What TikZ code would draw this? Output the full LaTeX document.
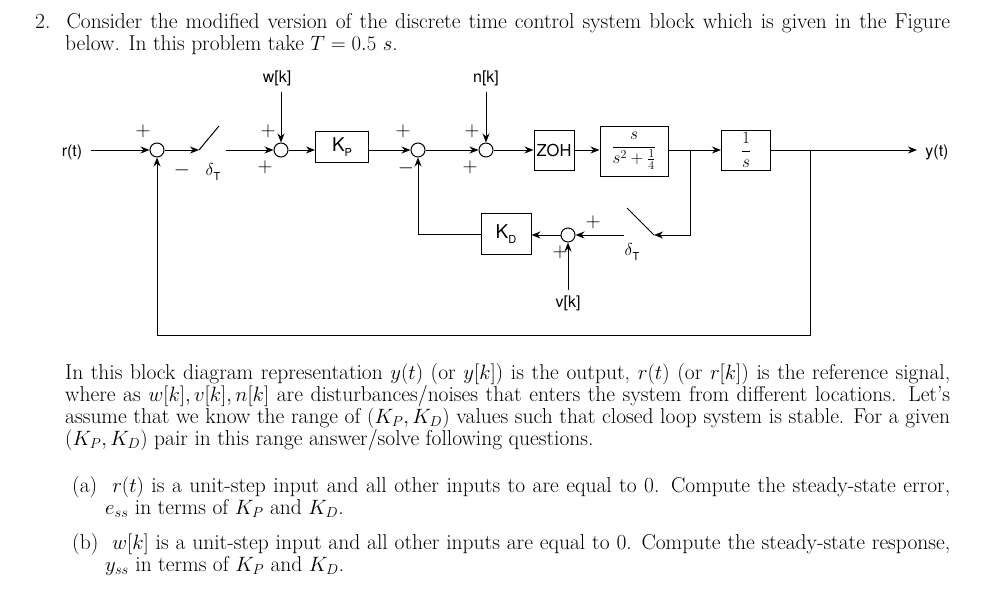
\documentclass[tikz,border=0pt]{standalone}
\usepackage{fontspec}
\usepackage{amsmath}
\newfontfamily\dfont{TeX Gyre Heros}
\newcommand{\subsf}[1]{\raisebox{-5pt}{\fontsize{11}{11}\selectfont #1}}
\usetikzlibrary{arrows.meta}
\begin{document}
\begin{tikzpicture}[x=1pt,y=-1pt,
  sig/.style={-{Stealth[length=9pt,width=7pt]},line width=1pt},
  ln/.style={line width=1pt},
  sumc/.style={circle,draw,line width=1pt,minimum size=14pt,inner sep=0pt},
  blk/.style={draw,line width=1pt,inner sep=0pt},
  lab/.style={font=\dfont\fontsize{16}{18}\selectfont,inner sep=1pt},
  big/.style={font=\dfont\fontsize{19}{20}\selectfont},
  zohf/.style={font=\dfont\fontsize{16.5}{18}\selectfont},
  mth/.style={font=\fontsize{17}{19}\selectfont},
  sg/.style={font=\fontsize{20}{20}\selectfont,inner sep=0pt},
  txt/.style={anchor=base west,inner sep=0pt,font=\fontsize{21.5}{22}\selectfont}]
\useasboundingbox (0,0) rectangle (995,590);
% text
\node[txt] (l1) at (35,28) {\hbox to 915pt{2.\ \ Consider the modified version of the discrete time control system block which is given in the Figure}};
\node[txt] (l2) at (65,50) {below. In this problem take $T=0.5\ s$.};
\node[txt] (p1) at (65,379) {\hbox to 885pt{In this block diagram representation $y(t)$ (or $y[k]$) is the output, $r(t)$ (or $r[k]$) is the reference signal,}};
\node[txt] (p2) at (65,401) {\hbox to 885pt{where as $w[k],v[k],n[k]$ are disturbances/noises that enters the system from different locations. Let's}};
\node[txt] (p3) at (65,423) {\hbox to 885pt{assume that we know the range of $(K_P,K_D)$ values such that closed loop system is stable. For a given}};
\node[txt] (p4) at (65,445) {$(K_P,K_D)$ pair in this range answer/solve following questions.};
\node[txt] (a1) at (72,492) {\hbox to 878pt{(a)\ \ $r(t)$ is a unit-step input and all other inputs to are equal to 0. Compute the steady-state error,}};
\node[txt] (a2) at (105,514) {$e_{ss}$ in terms of $K_P$ and $K_D$.};
\node[txt] (b1) at (72,549) {\hbox to 878pt{(b)\ \ $w[k]$ is a unit-step input and all other inputs are equal to 0. Compute the steady-state response,}};
\node[txt] (b2) at (105,571) {$y_{ss}$ in terms of $K_P$ and $K_D$.};
% diagram
\node[lab] (r) at (72,152) {r(t)};
\node[sumc] (s1) at (157,150) {};
\coordinate (sw1a) at (199,150);
\coordinate (sw1b) at (219,126);
\coordinate (sw1c) at (226,150);
\node[lab] (d1) at (213,172) {$\delta$\subsf{T}};
\node[sumc] (s2) at (281,150) {};
\node[lab] (w) at (277,78) {w[k]};
\coordinate (wt) at (281,92);
\node[blk,minimum width=53pt,minimum height=31pt,big] (kp) at (342,147) {K\subsf{P}};
\node[sumc] (s3) at (418,150) {};
\node[sumc] (s4) at (486,150) {};
\node[lab] (n) at (486,78) {n[k]};
\coordinate (nt) at (486,92);
\node[blk,minimum width=40pt,minimum height=40pt,zohf] (zoh) at (554,150) {ZOH};
\node[blk,minimum width=68pt,minimum height=50pt,mth] (tf) at (634,151) {$\dfrac{s}{s^2+\frac14}$};
\coordinate (b1) at (690,150);
\node[blk,minimum width=49pt,minimum height=40pt,mth] (int) at (746,150) {$\dfrac{1}{s}$};
\coordinate (b2) at (810,150);
\coordinate (yend) at (917,150);
\node[lab] (y) at (937,152) {y(t)};
\coordinate (fb1) at (810,335);
\coordinate (fb2) at (157,335);
\coordinate (b1d) at (690,235);
\coordinate (sw2a) at (654,235);
\coordinate (sw2b) at (627,208);
\coordinate (sw2c) at (624,235);
\node[lab] (d2) at (632,252) {$\delta$\subsf{T}};
\node[sumc] (s5) at (568,235) {};
\node[blk,minimum width=50pt,minimum height=41pt,big] (kd) at (506,234) {K\subsf{D}};
\coordinate (kdl) at (418,234);
\node[lab] (v) at (568,303) {v[k]};
\coordinate (vt) at (568,290);
% connectors
\draw[sig] (r.east) ++(8,-2) -- (s1.west);
\draw[sig] (s1.east) -- (sw1a);
\draw[ln] (sw1a) -- (sw1b);
\draw[sig] (sw1c) -- (s2.west);
\draw[sig] (wt) -- (s2.north);
\draw[sig] (s2.east) -- (kp.west |- s2.east);
\draw[sig] (kp.east |- s3.west) -- (s3.west);
\draw[sig] (s3.east) -- (s4.west);
\draw[sig] (nt) -- (s4.north);
\draw[sig] (s4.east) -- (zoh.west |- s4.east);
\draw[sig] (zoh.east |- s4.east) -- (tf.west |- s4.east);
\draw[ln] (tf.east |- b1) -- (b1);
\draw[sig] (b1) -- (int.west |- b1);
\draw[sig] (int.east |- b1) -- (yend);
\draw[sig] (b2) -- (fb1) -- (fb2) -- (s1.south);
\draw[sig] (b1) -- (b1d) -- (sw2a);
\draw[ln] (sw2a) -- (sw2b);
\draw[sig] (sw2c) -- (s5.east);
\draw[sig] (s5.west) -- (kd.east |- s5.west);
\draw[sig] (kd.west) -- (kdl) -- (s3.south);
\draw[sig] (vt) -- (s5.south);
% signs
\node[sg] at (143,131) {$+$};
\node[sg] at (182,170) {$-$};
\node[sg] at (268,131) {$+$};
\node[sg] at (265,167) {$+$};
\node[sg] at (403,131) {$+$};
\node[sg] at (406,168) {$-$};
\node[sg] at (472,131) {$+$};
\node[sg] at (470,167) {$+$};
\node[sg] at (593,222) {$+$};
\node[sg] at (560,252) {$+$};
\end{tikzpicture}
\end{document}
